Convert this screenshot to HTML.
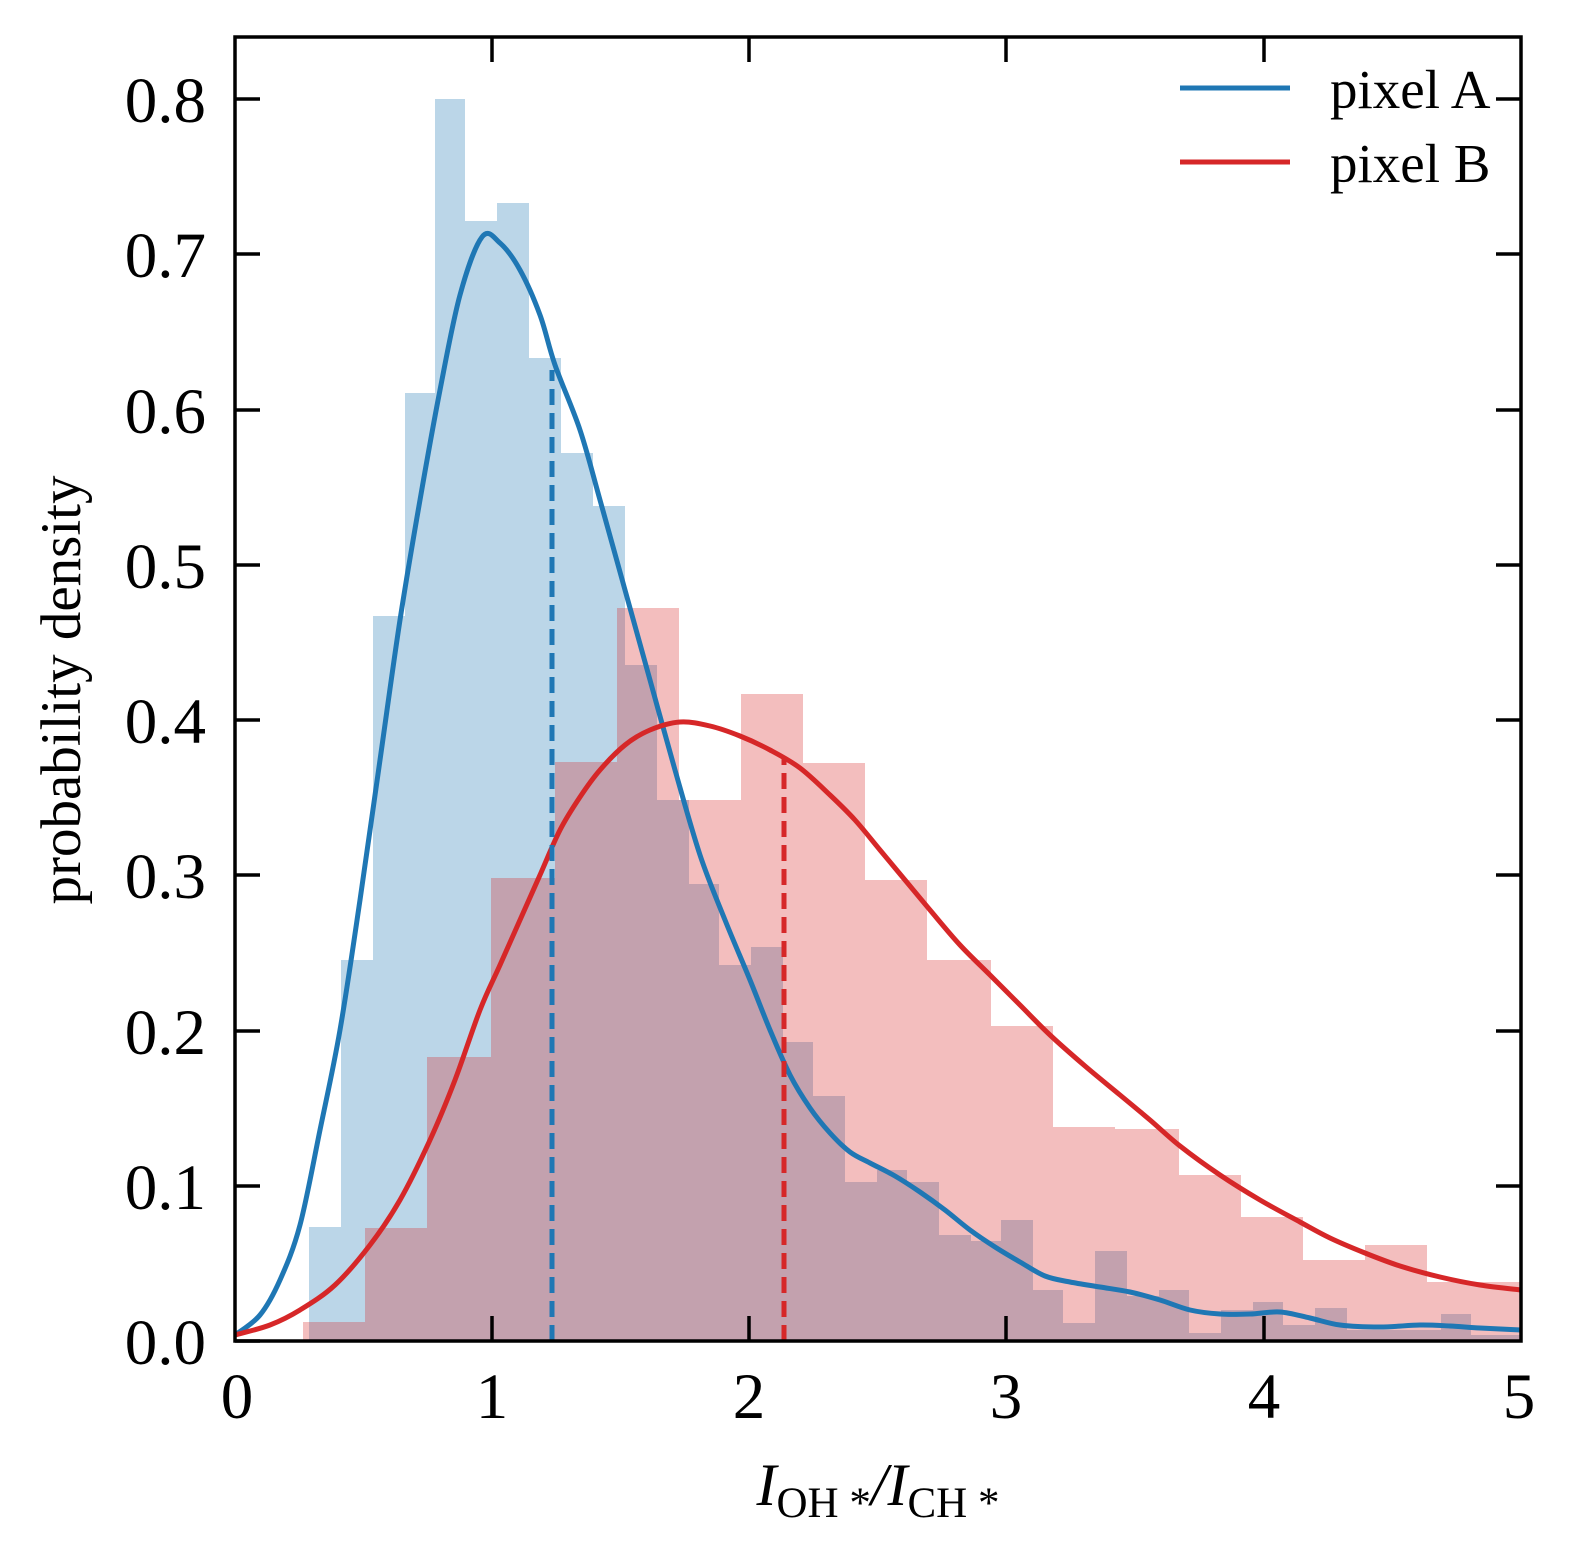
<!DOCTYPE html>
<html><head><style>body{margin:0;background:#fff}</style></head><body>
<svg width="1569" height="1545" xmlns="http://www.w3.org/2000/svg" font-family="Liberation Serif, serif">
<rect width="1569" height="1545" fill="#fff"/>
<g fill="#1f77b4" fill-opacity="0.3">
<path d="M309,1341 V1227 H341 V960 H373 V616 H405 V393 H435 V99 H465 V221 H497 V203 H529 V358 H561 V453 H593 V506 H625 V665 H657 V800 H689 V884 H719 V965 H751 V947 H783 V1042 H813 V1096 H845 V1182 H877 V1170 H907 V1182 H939 V1235 H971 V1241 H1001 V1220 H1033 V1290 H1063 V1323 H1095 V1251 H1127 V1296 H1159 V1290 H1189 V1333 H1221 V1310 H1253 V1302 H1283 V1325 H1315 V1308 H1347 V1330 H1441 V1314 H1471 V1335 H1521 V1341 Z"/>
</g>
<g fill="#d62728" fill-opacity="0.3">
<path d="M303,1341 V1322 H365 V1228 H427 V1057 H491 V878 H555 V762 H617 V608 H679 V800 H741 V694 H803 V763 H865 V880 H927 V960 H991 V1026 H1053 V1127 H1115 V1129 H1179 V1175 H1241 V1217 H1303 V1260 H1365 V1245 H1427 V1282 H1521 V1341 Z"/>
</g>
<path id="cb" fill="none" stroke="#1f77b4" stroke-width="5" stroke-linejoin="round" d=""/>
<path id="cr" fill="none" stroke="#d62728" stroke-width="5" stroke-linejoin="round" d=""/>
<line x1="552" y1="1341" x2="552" y2="370" stroke="#1f77b4" stroke-width="5" stroke-dasharray="16,8"/>
<line x1="784" y1="1341" x2="784" y2="757" stroke="#d62728" stroke-width="5" stroke-dasharray="16,8"/>
<rect x="235" y="37" width="1286" height="1304" fill="none" stroke="#000" stroke-width="3.5"/>
<g stroke="#000" stroke-width="3.5">
<path d="M235,1341h25M235,1186h25M235,1031h25M235,875h25M235,720h25M235,565h25M235,410h25M235,254h25M235,99h25"/>
<path d="M1521,1186h-25M1521,1031h-25M1521,875h-25M1521,720h-25M1521,565h-25M1521,410h-25M1521,254h-25M1521,99h-25"/>
<path d="M492,1341v-25M749,1341v-25M1006,1341v-25M1264,1341v-25M492,37v25M749,37v25M1006,37v25M1264,37v25"/>
</g>
<g font-size="65" text-anchor="end">
<text x="206" y="1364">0.0</text><text x="206" y="1209">0.1</text><text x="206" y="1054">0.2</text><text x="206" y="898">0.3</text><text x="206" y="743">0.4</text><text x="206" y="588">0.5</text><text x="206" y="433">0.6</text><text x="206" y="277">0.7</text><text x="206" y="122">0.8</text>
</g>
<g font-size="65" text-anchor="middle">
<text x="237" y="1418">0</text><text x="492" y="1418">1</text><text x="749" y="1418">2</text><text x="1006" y="1418">3</text><text x="1264" y="1418">4</text><text x="1519" y="1418">5</text>
</g>
<text transform="translate(80,690) rotate(-90)" font-size="57" text-anchor="middle">probability density</text>
<text x="878" y="1505" font-size="60" text-anchor="middle"><tspan font-style="italic">I</tspan><tspan font-size="43" dy="12">OH *</tspan><tspan dy="-12" font-style="italic">/I</tspan><tspan font-size="43" dy="12">CH *</tspan></text>
<line x1="1180" y1="88" x2="1290" y2="88" stroke="#1f77b4" stroke-width="5"/>
<line x1="1180" y1="162" x2="1290" y2="162" stroke="#d62728" stroke-width="5"/>
<text x="1330" y="108" font-size="55">pixel A</text>
<text x="1330" y="182" font-size="55">pixel B</text>
</svg>
<script>
function cr(p){var d="M"+p[0][0]+","+p[0][1];for(var i=0;i<p.length-1;i++){var a=p[i-1]||p[i],b=p[i],c=p[i+1],e=p[i+2]||c;
d+=" C"+(b[0]+(c[0]-a[0])/6)+","+(b[1]+(c[1]-a[1])/6)+" "+(c[0]-(e[0]-b[0])/6)+","+(c[1]-(e[1]-b[1])/6)+" "+c[0]+","+c[1];}return d;}
var B=[[235,1335],[260,1315],[280,1280],[300,1225],[320,1130],[340,1030],[360,900],[380,760],[400,620],[420,500],[440,390],[460,295],[482,237],[500,243],[520,270],[540,315],[555,365],[580,430],[600,500],[625,590],[650,680],[675,770],[700,855],[725,920],[750,980],[770,1030],[790,1075],[810,1108],[830,1133],[850,1152],[870,1163],[895,1176],[920,1192],[945,1210],[970,1230],[995,1247],[1020,1262],[1045,1276],[1070,1282],[1100,1287],[1130,1292],[1160,1300],[1190,1310],[1220,1314],[1250,1314],[1280,1312],[1310,1318],[1340,1325],[1380,1327],[1420,1325],[1450,1326],[1480,1328],[1521,1330]];
var R=[[235,1335],[270,1325],[300,1310],[335,1285],[370,1245],[400,1200],[430,1140],[455,1080],[480,1010],[500,965],[520,920],[540,875],[560,830],[580,797],[600,770],[625,745],[650,730],[680,722],[710,726],[740,736],[770,750],[800,768],[830,795],[855,820],[880,850],[905,880],[930,910],[960,945],[990,975],[1020,1005],[1050,1035],[1085,1066],[1120,1095],[1150,1120],[1180,1146],[1220,1175],[1260,1200],[1300,1222],[1330,1238],[1365,1253],[1400,1266],[1440,1277],[1480,1285],[1521,1290]];
document.getElementById("cb").setAttribute("d",cr(B));
document.getElementById("cr").setAttribute("d",cr(R));
</script>
</body></html>
